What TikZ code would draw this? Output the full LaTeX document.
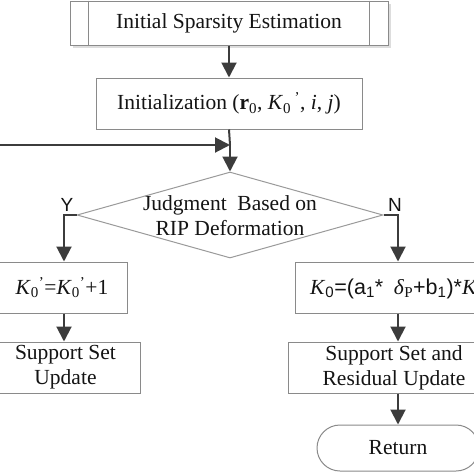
\documentclass[tikz,border=0pt]{standalone}
\usepackage{fontspec}
\setmainfont{Liberation Serif}
\setsansfont{Liberation Sans}
\usetikzlibrary{shapes.geometric,shapes.misc,arrows.meta,shadows}
\definecolor{boxgray}{HTML}{8A8A8A}
\definecolor{diagray}{HTML}{9A9A9A}
\definecolor{arrowgray}{HTML}{3C3C3C}
\definecolor{txt}{HTML}{141414}
\begin{document}
\begin{tikzpicture}[x=1pt,y=-1pt,
  box/.style={draw=boxgray, line width=1pt, fill=white, inner sep=0pt, minimum height=51pt,
    font=\fontsize{21.5}{25}\selectfont, text=txt, align=center},
  flow/.style={draw=arrowgray, line width=2pt, -{Triangle[length=15pt,width=15pt]}},
  plain/.style={draw=arrowgray, line width=2pt},
  lab/.style={font=\sffamily\fontsize{19}{21}\selectfont, text=txt, inner sep=0pt},
  big/.style={font=\fontsize{21.5}{25}\selectfont, text=txt, align=center, inner sep=0pt}]
\useasboundingbox (0,0) rectangle (474,474);
\clip (0,0) rectangle (474,474);
\fill[white] (0,0) rectangle (474,474);

% top predefined-process box
\node[box, minimum width=318pt, minimum height=44pt,
  drop shadow={shadow xshift=3pt, shadow yshift=-3pt, fill=black!22, opacity=0.6}]
  (est) at (229,23) {Initial Sparsity Estimation};
\draw[boxgray, line width=1pt] ([xshift=19pt]est.north west) -- ([xshift=19pt]est.south west);
\draw[boxgray, line width=1pt] ([xshift=-19pt]est.north east) -- ([xshift=-19pt]est.south east);

% initialization
\node[box, minimum width=266pt] (init) at (229,103.5)
  {Initialization (\textbf{r}\textsubscript{0}, \textit{K}\textsubscript{0}\,\textsuperscript{’}, \textit{i}, \textit{j})};

% decision
\node[draw=diagray, line width=1pt, diamond, minimum width=306pt, minimum height=86pt, inner sep=0pt] (dia) at (230,215) {};
\node[big] (diatext) at (230,216) {Judgment\ \ Based on\\RIP Deformation};

% merge point and loop-back line
\coordinate (m) at (230,145);
\coordinate (loopin) at (0,145);
\draw[flow] (est.south) -- (init.north);
\draw[plain] (init.south) -- (m);
\draw[flow] (loopin) -- (m);
\draw[flow] (m) -- (dia.north);

% left branch
\node[box, minimum width=130pt] (lb1) at (62,287.5)
  {\textit{K}\textsubscript{0}\textsuperscript{’}=\textit{K}\textsubscript{0}\textsuperscript{’}+1};
\node[box, minimum width=149pt] (lb2) at (65.5,367.5) {Support Set\\Update};
\node[lab] (ylab) at (67,205) {Y};
\draw[flow] (dia.west) -| ([xshift=2pt]lb1.north);
\draw[flow] ([xshift=2pt]lb1.south) -- ([xshift=2pt]lb1.south |- lb2.north);

% right branch
\node[box, minimum width=206pt] (rb1) at (398,287.5) {};
\node[big, anchor=west] (rb1text) at (310,289)
  {\textit{K}\textsubscript{\sffamily 0}{\sffamily =(a\textsubscript{1}*}\ \ \textit{δ}\textsubscript{P}{\sffamily +b\textsubscript{1})*}\textit{K}\textsubscript{0}};
\node[box, minimum width=212pt] (rb2) at (394,367.5) {Support Set and\\Residual Update};
\node[box, rounded rectangle, minimum width=162pt, minimum height=46pt] (ret) at (398,448) {Return};
\node[lab] (nlab) at (395,205) {N};
\draw[flow] (dia.east) -| (rb1.north);
\draw[flow] (rb1.south) -- (rb1.south |- rb2.north);
\draw[flow] (rb1.south |- rb2.south) -- (ret.north);
\end{tikzpicture}
\end{document}
